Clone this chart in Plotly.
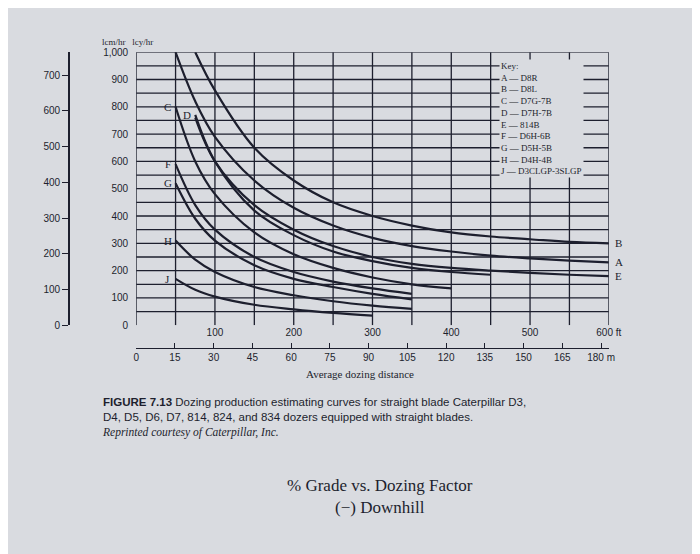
import plotly.graph_objects as go

dist_ft = [50, 75, 100, 150, 200, 250, 300, 350, 400, 450, 500, 550, 600]
curves = {
    "A": [1000, 820, 690, 530, 430, 365, 320, 290, 270, 255, 245, 237, 230],
    "B": [None, 1000, 860, 650, 530, 450, 400, 365, 340, 325, 315, 305, 300],
    "E": [None, 760, 600, 440, 350, 290, 250, 225, 210, 200, 192, 185, 180],
    "D": [None, 770, 600, 420, 330, 270, 235, 210, 195, 185, None, None, None],
    "C": [800, 600, 480, 340, 260, 210, 175, 150, 135, None, None, None, None],
    "F": [590, 440, 350, 250, 195, 160, 135, 115, None, None, None, None, None],
    "G": [520, 390, 310, 220, 170, 140, 115, 95, None, None, None, None, None],
    "H": [310, 240, 195, 140, 110, 88, 72, 60, None, None, None, None, None],
    "J": [170, 130, 105, 75, 58, 45, 35, None, None, None, None, None, None],
}
legend_lines = ["Key:", "A — D8R", "B — D8L", "C — D7G-7B", "D — D7H-7B", "E — 814B",
                "F — D6H-6B", "G — D5H-5B", "H — D4H-4B", "J — D3CLGP-3SLGP"]
ft_ticks = [100, 200, 300, 400, 500, 600]
ft_labels = ["100", "200", "300", "400", "500", "600 ft"]
m_ticks = list(range(0, 181, 15))
lcy_ticks = list(range(0, 1001, 100))
lcm_ticks = list(range(0, 701, 100))

ink = "#1d1f2e"
fig = go.Figure()
for name, ys in curves.items():
    xs = [x for x, y in zip(dist_ft, ys) if y is not None]
    yv = [y for y in ys if y is not None]
    fig.add_trace(go.Scatter(x=xs, y=yv, mode="lines", line=dict(color=ink, width=2.2, shape="spline"),
                             showlegend=False))
    right = name in "ABE"
    fig.add_annotation(x=xs[-1] if right else xs[0], y=yv[-1] if right else yv[0],
                       text=name, showarrow=False, xshift=10 if right else -8,
                       font=dict(color=ink, size=11, family="Liberation Serif"))

fig.add_trace(go.Scatter(x=[0], y=[0], xaxis="x2", yaxis="y2", mode="markers",
                         marker=dict(opacity=0), showlegend=False))

fig.update_layout(
    width=700, height=554, margin=dict(l=0, r=0, t=0, b=0),
    paper_bgcolor="#d9dbe0", plot_bgcolor="#d9dbe0",
    font=dict(family="Liberation Sans", color=ink, size=10),
    xaxis=dict(domain=[0.183, 0.874], range=[0, 600], tickvals=ft_ticks, ticktext=ft_labels,
               showgrid=False, showline=False, zeroline=False, ticks="", anchor="y"),
    yaxis=dict(domain=[0.426, 0.928], range=[0, 1000], tickvals=lcy_ticks,
               ticktext=[f"{v:,}" if v == 1000 else str(v) for v in lcy_ticks],
               showline=False, ticks="", zeroline=False, ticklabelstandoff=8,
               showgrid=False, anchor="free", position=0.183),
    xaxis2=dict(overlaying="x", range=[0, 183], tickvals=m_ticks,
                ticktext=[str(v) if v < 180 else "180 m" for v in m_ticks],
                anchor="free", position=0.385, showline=True, linecolor=ink,
                ticks="inside", ticklen=5, tickcolor=ink, showgrid=False, zeroline=False,
                domain=[0.183, 0.874]),
    yaxis2=dict(overlaying="y", range=[0, 1000 * 0.7646], tickvals=lcm_ticks,
                anchor="free", position=0.085, showline=True, linecolor=ink, linewidth=2,
                ticks="outside", ticklen=6, tickcolor=ink, showgrid=False, zeroline=False,
                side="left"),
)
for v in range(50, 1001, 50):
    fig.add_shape(type="line", xref="x", yref="y", x0=0, x1=600, y0=v, y1=v,
                  line=dict(color=ink, width=1.3), layer="below")
for v in range(0, 601, 50):
    fig.add_shape(type="line", xref="x", yref="y", x0=v, x1=v, y0=0, y1=1000,
                  line=dict(color=ink, width=1.3), layer="below")

fig.add_annotation(xref="paper", yref="paper", x=0.21, y=0.96, text="lcm/hr&nbsp;&nbsp;&nbsp;lcy/hr",
                   showarrow=False, xanchor="right", font=dict(size=9, family="Liberation Serif"))
fig.add_annotation(xref="x", yref="y", x=460, y=975, align="left", xanchor="left", yanchor="top",
                   text="<br>".join(legend_lines), showarrow=False,
                   font=dict(size=9, family="Liberation Sans Narrow"), bgcolor="#d9dbe0")
fig.add_annotation(xref="paper", yref="paper", x=0.51, y=0.322, text="Average dozing distance",
                   showarrow=False, font=dict(size=11, family="Liberation Serif"))
fig.add_annotation(xref="paper", yref="paper", x=0.13, y=0.30, xanchor="left", yanchor="top", align="left",
                   showarrow=False, font=dict(size=11.5, family="Liberation Sans"),
                   text="<b>FIGURE 7.13</b> Dozing production estimating curves for straight blade Caterpillar D3,<br>"
                        "D4, D5, D6, D7, 814, 824, and 834 dozers equipped with straight blades.<br>"
                        "<i><span style='font-family:Liberation Serif'>Reprinted courtesy of Caterpillar, Inc.</span></i>")
fig.add_annotation(xref="paper", yref="paper", x=0.54, y=0.07, showarrow=False,
                   text="% Grade vs. Dozing Factor<br>(−) Downhill",
                   font=dict(size=17, family="Liberation Serif"))
fig.write_html("out.html")
